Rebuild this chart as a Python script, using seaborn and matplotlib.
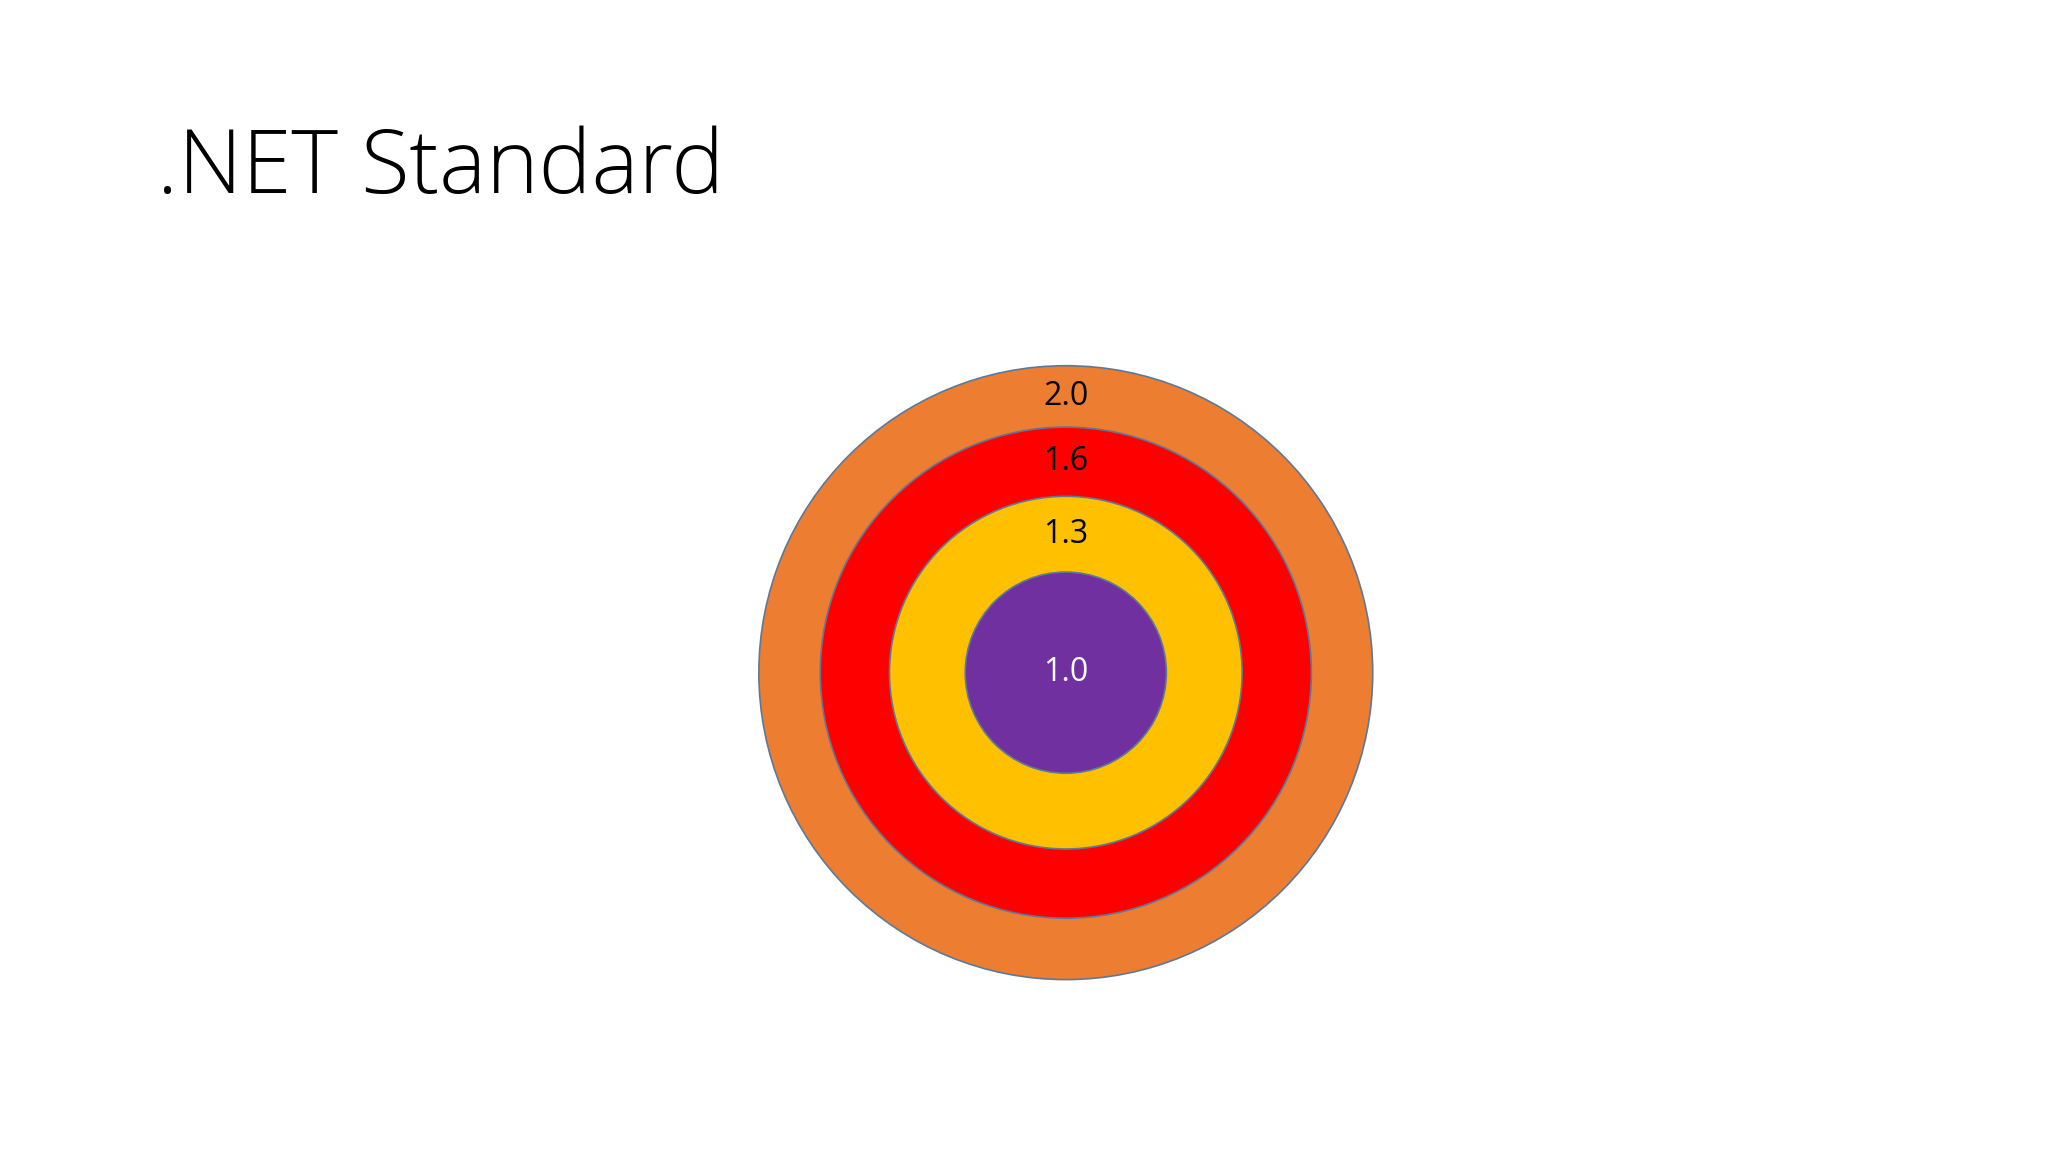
import matplotlib.pyplot as plt
import matplotlib.patches as mpatches
import seaborn as sns

# ── Data (slide coordinates, 1568 x 882 reference grid) ──
versions = ["2.0", "1.6", "1.3", "1.0"]
radii = [235, 188, 135, 77]
colors = ["#ED7D31", "#FF0000", "#FFC000", "#7030A0"]
label_colors = ["black", "black", "black", "white"]
center = (816, 515)

sns.set_theme(style="white")
plt.rcParams['font.family'] = ['Open Sans', 'DejaVu Sans']

fig = plt.figure(figsize=(20.48, 11.52), dpi=100)
ax = fig.add_axes([0, 0, 1, 1])
ax.set_xlim(0, 1568)
ax.set_ylim(882, 0)
ax.set_aspect('equal')
ax.axis('off')

for r, c in zip(radii, colors):
    ax.add_patch(mpatches.Circle(center, r, facecolor=c, edgecolor="#5B7A9A", linewidth=1.2))

# labels sit midway between ring tops, innermost in the centre
for i, (v, lc) in enumerate(zip(versions, label_colors)):
    if i < len(radii) - 1:
        y = center[1] - (radii[i] + radii[i + 1]) / 2
    else:
        y = center[1]
    ax.text(center[0], y, v, ha='center', va='center', fontsize=23, color=lc)

ax.text(120, 130, ".NET Standard", ha='left', va='center', fontsize=64,
        fontweight='light', color='black')

fig.savefig("out.png", dpi=100, facecolor='white')
